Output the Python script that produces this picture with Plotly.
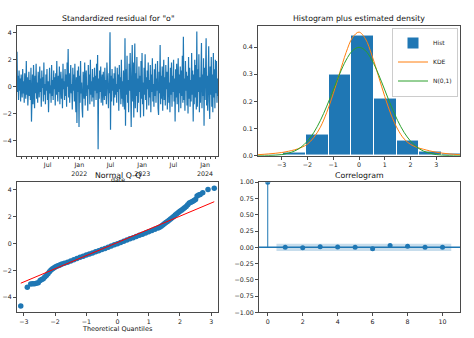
import plotly.graph_objects as go
import pandas as pd

# ---------------- data ----------------
resid_start = "2021-01-04"
resid_freq = "3D"
resid = [
    2.6, -0.4, 0.8, -1.0, 1.2, -0.3, 0.6, -1.1, 0.9, 0.1,
    -0.8, 1.3, -0.5, 0.4, -1.2, 1.0, 0.2, -0.9, 1.9, -0.6,
    0.7, -1.4, 0.3, 1.1, -0.7, 0.5, -1.0, 1.4, -2.6, 0.2,
    0.9, -1.3, 1.6, -0.2, -1.6, 0.8, -0.5, 1.7, -0.9, 0.3,
    -1.2, 1.1, 0.0, -0.8, 1.5, -0.4, 0.6, -1.5, 1.2, -0.1,
    0.7, -1.1, 1.8, -0.6, 0.2, -1.3, 0.9, -0.3, 1.3, -1.0,
    0.4, -1.9, 0.8, 1.4, -0.5, 0.1, -1.2, 1.6, -0.7, 0.5,
    -1.0, 1.2, -0.2, 0.7, -1.4, 1.0, -0.6, 1.9, -0.3, -1.1,
    0.8, -0.4, 1.5, -1.3, 0.3, 1.1, -0.9, 0.6, -1.6, 1.7,
    -0.2, 0.4, -1.0, 1.3, -0.7, 0.9, -1.5, 1.8, 0.0, 2.8,
    -0.8, 1.0, -1.2, 0.5, 1.6, -0.5, 0.2, -1.7, 1.4, -0.3,
    0.9, -1.1, 1.7, -0.6, -1.9, 0.7, -2.7, 1.2, -0.4, 1.5,
    -3.0, 0.8, -1.2, 1.9, -0.5, 0.3, -1.6, -2.3, 1.1, 0.4,
    -0.9, 1.8, -1.4, 0.6, 1.2, -0.7, 0.1, -1.8, 1.6, -0.2,
    0.9, -1.3, 2.0, -0.6, 0.4, -1.1, 1.3, -0.8, 0.7, -1.5,
    1.4, -0.3, 0.8, -1.0, 1.7, -0.5, 2.35, -4.65, 0.6, -0.9,
    1.2, -0.4, 1.5, -1.2, 0.3, 0.9, -1.4, 1.1, -0.2, -1.0,
    1.4, -0.7, 0.5, -1.3, 1.8, -0.1, 0.7, -1.6, 1.0, -0.5,
    4.05, -3.2, 0.8, -1.1, 1.3, -0.3, 0.6, -1.4, 1.0, -0.8,
    1.5, -0.6, 0.2, -1.2, 1.4, -0.4, 0.9, -1.8, 1.6, -0.2,
    0.7, -1.3, 2.0, -0.9, 0.4, -1.5, 1.2, -0.1, -1.7, 3.6,
    -2.9, 1.3, -0.6, 2.3, -1.2, 0.5, -1.9, 1.7, -0.3, 2.5,
    -1.4, -3.0, 0.9, 3.1, -1.1, 1.8, -2.3, 0.4, 3.2, -1.6,
    1.0, -0.7, 2.2, -1.9, 0.6, -1.2, 1.5, -0.4, 0.8, -2.3,
    1.9, -0.9, 2.5, -1.3, 0.3, -2.2, 1.4, -0.6, 2.4, -1.0,
    0.7, -1.7, 1.2, -0.2, 1.8, -1.4, 0.5, -0.8, 1.6, -1.9,
    0.9, -0.4, 2.1, -1.1, 0.2, -1.5, 1.3, -0.7, 1.7, -1.2,
    0.6, -0.3, 1.9, -1.6, -2.1, 1.1, -0.5, 3.1, -1.3, 0.8,
    -0.9, 1.5, -1.8, 0.4, 2.0, -1.0, 0.7, -1.4, 1.6, -0.2,
    1.1, -1.7, 0.5, 2.2, -1.2, 0.3, -1.9, 1.4, -0.6, 1.8,
    -1.5, 0.8, -0.4, 2.0, -1.1, 0.6, -2.6, 1.3, -0.8, 1.7,
    -1.3, 0.2, 2.1, -1.9, 0.9, -0.5, 1.5, -1.6, 1.2, -0.7,
    2.3, -1.2, 3.7, -1.0, 0.6, -1.8, 1.9, -0.3, 1.1, -1.4,
    0.8, -2.0, 2.2, -0.9, 1.4, -1.5, 0.5, -1.1, 2.5, -0.6,
    1.2, -2.6, 0.9, -1.3, 2.0, -0.8, 1.6, -1.7, 4.1, -1.5,
    1.3, -0.4, 2.4, -1.9, 0.7, -1.2, 1.8, 3.25, -1.6, 0.9,
    -0.7, 2.1, -2.9, 1.4, -1.0, 2.6, 3.6, -1.4, 0.8, -1.8,
    1.7, 3.0, -1.1, -2.4, 1.5, -0.6, 2.2, -1.5, 0.9, -1.9,
    2.5, -0.8, 1.3, -1.6, 2.0, -0.5, 1.9, -1.2, 0.6, -0.7,
]
date_tickvals = ["2021-07-01", "2022-01-01", "2022-07-01", "2023-01-01", "2023-07-01", "2024-01-01"]
date_ticktext = ["Jul", "Jan<br>2022", "Jul", "Jan<br>2023", "Jul", "Jan<br>2024"]

hist_edges = [-4.70, -3.82, -2.94, -2.06, -1.18, -0.30, 0.58, 1.46, 2.34, 3.22, 4.10]
hist_density = [0.001, 0.005, 0.012, 0.078, 0.300, 0.441, 0.210, 0.056, 0.0145, 0.008]

dens_x = [-3.92, -3.5, -3.0, -2.5, -2.25, -2.0, -1.75, -1.5, -1.25, -1.0, -0.75, -0.5, -0.25, 0.0,
          0.25, 0.5, 0.75, 1.0, 1.25, 1.5, 1.75, 2.0, 2.25, 2.5, 3.0, 3.5, 3.92]
kde_y = [0.004, 0.007, 0.012, 0.022, 0.030, 0.043, 0.068, 0.105, 0.160, 0.228, 0.305, 0.380, 0.435, 0.455,
         0.430, 0.370, 0.295, 0.218, 0.150, 0.098, 0.062, 0.042, 0.031, 0.024, 0.013, 0.007, 0.004]
norm_y = [0.00019, 0.00087, 0.00443, 0.01753, 0.03174, 0.05399, 0.08628, 0.12952, 0.18265, 0.24197,
          0.30114, 0.35207, 0.38667, 0.39894, 0.38667, 0.35207, 0.30114, 0.24197, 0.18265, 0.12952,
          0.08628, 0.05399, 0.03174, 0.01753, 0.00443, 0.00087, 0.00019]

qq_theoretical = [
    -3.10, -2.89, -2.78, -2.72, -2.66, -2.60, -2.54, -2.48, -2.43, -2.38, -2.33, -2.28, -2.23, -2.18,
    -2.13, -2.08, -2.03, -1.98, -1.93, -1.88, -1.83, -1.78,
    -1.7, -1.6, -1.5, -1.4, -1.3, -1.2, -1.1, -1.0, -0.9, -0.8, -0.7, -0.6, -0.5, -0.4, -0.3, -0.2,
    -0.1, 0.0, 0.1, 0.2, 0.3, 0.4, 0.5, 0.6, 0.7, 0.8, 0.9, 1.0, 1.1, 1.2, 1.3,
    1.35, 1.4, 1.45, 1.5, 1.55, 1.6, 1.65, 1.7, 1.75, 1.8, 1.85, 1.9, 1.95, 2.0, 2.05, 2.1, 2.15,
    2.2, 2.25, 2.3, 2.35, 2.4, 2.45, 2.5,
    2.55, 2.6, 2.65, 2.73, 2.9, 3.10,
]
qq_sample = [
    -4.66, -3.26, -3.02, -3.00, -2.99, -2.96, -2.93, -2.75, -2.68, -2.62, -2.50, -2.38, -2.26, -2.10,
    -1.98, -1.88, -1.80, -1.74, -1.68, -1.63, -1.58, -1.53,
    -1.47, -1.39, -1.30, -1.20, -1.11, -1.02, -0.94, -0.86, -0.78, -0.70, -0.62, -0.54, -0.45, -0.37,
    -0.28, -0.19, -0.10, -0.01, 0.08, 0.17, 0.26, 0.35, 0.43, 0.52, 0.61, 0.70, 0.79, 0.88, 0.97, 1.06, 1.15,
    1.22, 1.29, 1.38, 1.47, 1.56, 1.65, 1.74, 1.83, 1.92, 2.02, 2.12, 2.22, 2.31, 2.40, 2.49, 2.58, 2.67,
    2.76, 2.90, 3.02, 3.08, 3.14, 3.20, 3.28,
    3.55, 3.62, 3.66, 3.78, 4.02, 4.13,
]
qq_line_intercept = 0.08
qq_line_slope = 0.98

acf_lags = [0, 1, 2, 3, 4, 5, 6, 7, 8, 9, 10]
acf_values = [1.0, 0.002, -0.006, 0.010, 0.006, 0.001, -0.020, 0.030, 0.016, 0.001, 0.002]
acf_conf = 0.057

# ---------------- styles ----------------
C0, C1, C2 = "#1f77b4", "#ff7f0e", "#2ca02c"
FONT = "DejaVu Sans"
TICK = 6.3
TITLE = 7.8
AX = "#4a4a4a"

dates = pd.date_range(resid_start, periods=len(resid), freq=resid_freq)

fig = go.Figure()

# 1. standardized residual
fig.add_trace(go.Scatter(x=dates, y=resid, mode="lines", line=dict(color=C0, width=1.2),
                         showlegend=False, xaxis="x", yaxis="y"))

# 2. histogram + densities
centers = [(hist_edges[i] + hist_edges[i + 1]) / 2 for i in range(len(hist_density))]
widths = [hist_edges[i + 1] - hist_edges[i] for i in range(len(hist_density))]
fig.add_trace(go.Bar(x=centers, y=hist_density, width=widths, name="Hist",
                     marker=dict(color=C0, line=dict(color="white", width=1)),
                     xaxis="x2", yaxis="y2"))
fig.add_trace(go.Scatter(x=dens_x, y=kde_y, mode="lines", name="KDE",
                         line=dict(color=C1, width=1, shape="spline"), xaxis="x2", yaxis="y2"))
fig.add_trace(go.Scatter(x=dens_x, y=norm_y, mode="lines", name="N(0,1)",
                         line=dict(color=C2, width=1, shape="spline"), xaxis="x2", yaxis="y2"))

# 3. Q-Q
fig.add_trace(go.Scatter(x=qq_theoretical, y=qq_sample, mode="markers",
                         marker=dict(color=C0, size=5.5), showlegend=False, xaxis="x3", yaxis="y3"))
tmin, tmax = min(qq_theoretical), max(qq_theoretical)
fig.add_trace(go.Scatter(x=[tmin, tmax],
                         y=[qq_line_intercept + qq_line_slope * tmin, qq_line_intercept + qq_line_slope * tmax],
                         mode="lines", line=dict(color="red", width=1), showlegend=False,
                         xaxis="x3", yaxis="y3"))

# 4. correlogram
bx0, bx1 = acf_lags[1] - 0.5, acf_lags[-1] + 0.5
fig.add_trace(go.Scatter(x=[bx0, bx1, bx1, bx0, bx0], y=[-acf_conf, -acf_conf, acf_conf, acf_conf, -acf_conf],
                         fill="toself", fillcolor="rgba(31,119,180,0.25)", line=dict(width=0),
                         mode="lines", showlegend=False, xaxis="x4", yaxis="y4"))
fig.add_trace(go.Scatter(x=[-0.5, 11.0], y=[0, 0], mode="lines", line=dict(color=C0, width=1.5),
                         showlegend=False, xaxis="x4", yaxis="y4"))
sx, sy = [], []
for lag, v in zip(acf_lags, acf_values):
    sx += [lag, lag, None]
    sy += [0, v, None]
fig.add_trace(go.Scatter(x=sx, y=sy, mode="lines", line=dict(color=C0, width=1),
                         showlegend=False, xaxis="x4", yaxis="y4"))
fig.add_trace(go.Scatter(x=acf_lags, y=acf_values, mode="markers", marker=dict(color=C0, size=5),
                         showlegend=False, xaxis="x4", yaxis="y4"))

W, H = 474, 338
def px(x0, x1):
    return [x0 / W, x1 / W]
def py(top, bottom):
    return [1 - bottom / H, 1 - top / H]

axcommon = dict(showline=True, mirror=True, linecolor=AX, linewidth=1, ticks="outside", ticklen=3,
                tickwidth=1, tickcolor=AX, showgrid=False, zeroline=False,
                tickfont=dict(family=FONT, size=TICK, color="#222"))

fig.update_layout(
    width=W, height=H, margin=dict(l=0, r=0, t=0, b=0),
    paper_bgcolor="white", plot_bgcolor="white",
    font=dict(family=FONT, color="#222"),
    bargap=0,
    xaxis=dict(domain=px(17, 218), anchor="y", type="date",
               range=[dates[0], dates[-1]], tickmode="array", tickvals=date_tickvals,
               ticktext=date_ticktext,
               minor=dict(ticks="outside", ticklen=2, tickcolor=AX, dtick="M1", tick0="2021-01-01"),
               **axcommon),
    yaxis=dict(domain=py(22, 155), anchor="x", range=[-5.14, 4.54], tickvals=[-4, -2, 0, 2, 4], **axcommon),
    xaxis2=dict(domain=px(258, 460), anchor="y2", range=[-3.92, 3.92], tickvals=[-3, -2, -1, 0, 1, 2, 3],
                **axcommon),
    yaxis2=dict(domain=py(22, 155), anchor="x2", range=[0, 0.479], tickvals=[0, 0.1, 0.2, 0.3, 0.4],
                tickformat=".1f", **axcommon),
    xaxis3=dict(domain=px(17, 218), anchor="y3", range=[-3.22, 3.22], tickvals=[-3, -2, -1, 0, 1, 2, 3],
                **axcommon),
    yaxis3=dict(domain=py(182, 315), anchor="x3", range=[-5.14, 4.57], tickvals=[-4, -2, 0, 2, 4], **axcommon),
    xaxis4=dict(domain=px(259, 460), anchor="y4", range=[-0.5, 11.0], tickvals=[0, 2, 4, 6, 8, 10],
                **axcommon),
    yaxis4=dict(domain=py(182, 315), anchor="x4", range=[-1, 1],
                tickvals=[-1, -0.75, -0.5, -0.25, 0, 0.25, 0.5, 0.75, 1], tickformat=".2f", **axcommon),
    legend=dict(x=458 / W, y=1 - 24 / H, xanchor="right", yanchor="top",
                bgcolor="rgba(255,255,255,0.85)", bordercolor="#ccc", borderwidth=1,
                font=dict(family=FONT, size=6, color="#222"), itemwidth=30,
                tracegroupgap=0),
)

def ann(text, xc, yc, size):
    fig.add_annotation(text=text, x=xc / W, y=1 - yc / H, xref="paper", yref="paper",
                       showarrow=False, xanchor="center", yanchor="middle",
                       font=dict(family=FONT, size=size, color="#111"))

# the x-axis label "date" of the top-left panel sits under the Q-Q title, as in the original
ann("date", 117.5, 179, 6.3)
ann('Standardized residual for "o"', 117.5, 14.5, TITLE)
ann("Histogram plus estimated density", 359, 14.5, TITLE)
ann("Normal Q-Q", 117.5, 175, TITLE)
ann("Correlogram", 359.5, 175, TITLE)
ann("Theoretical Quantiles", 117.5, 331.5, 6.5)

fig.write_html("out.html")
